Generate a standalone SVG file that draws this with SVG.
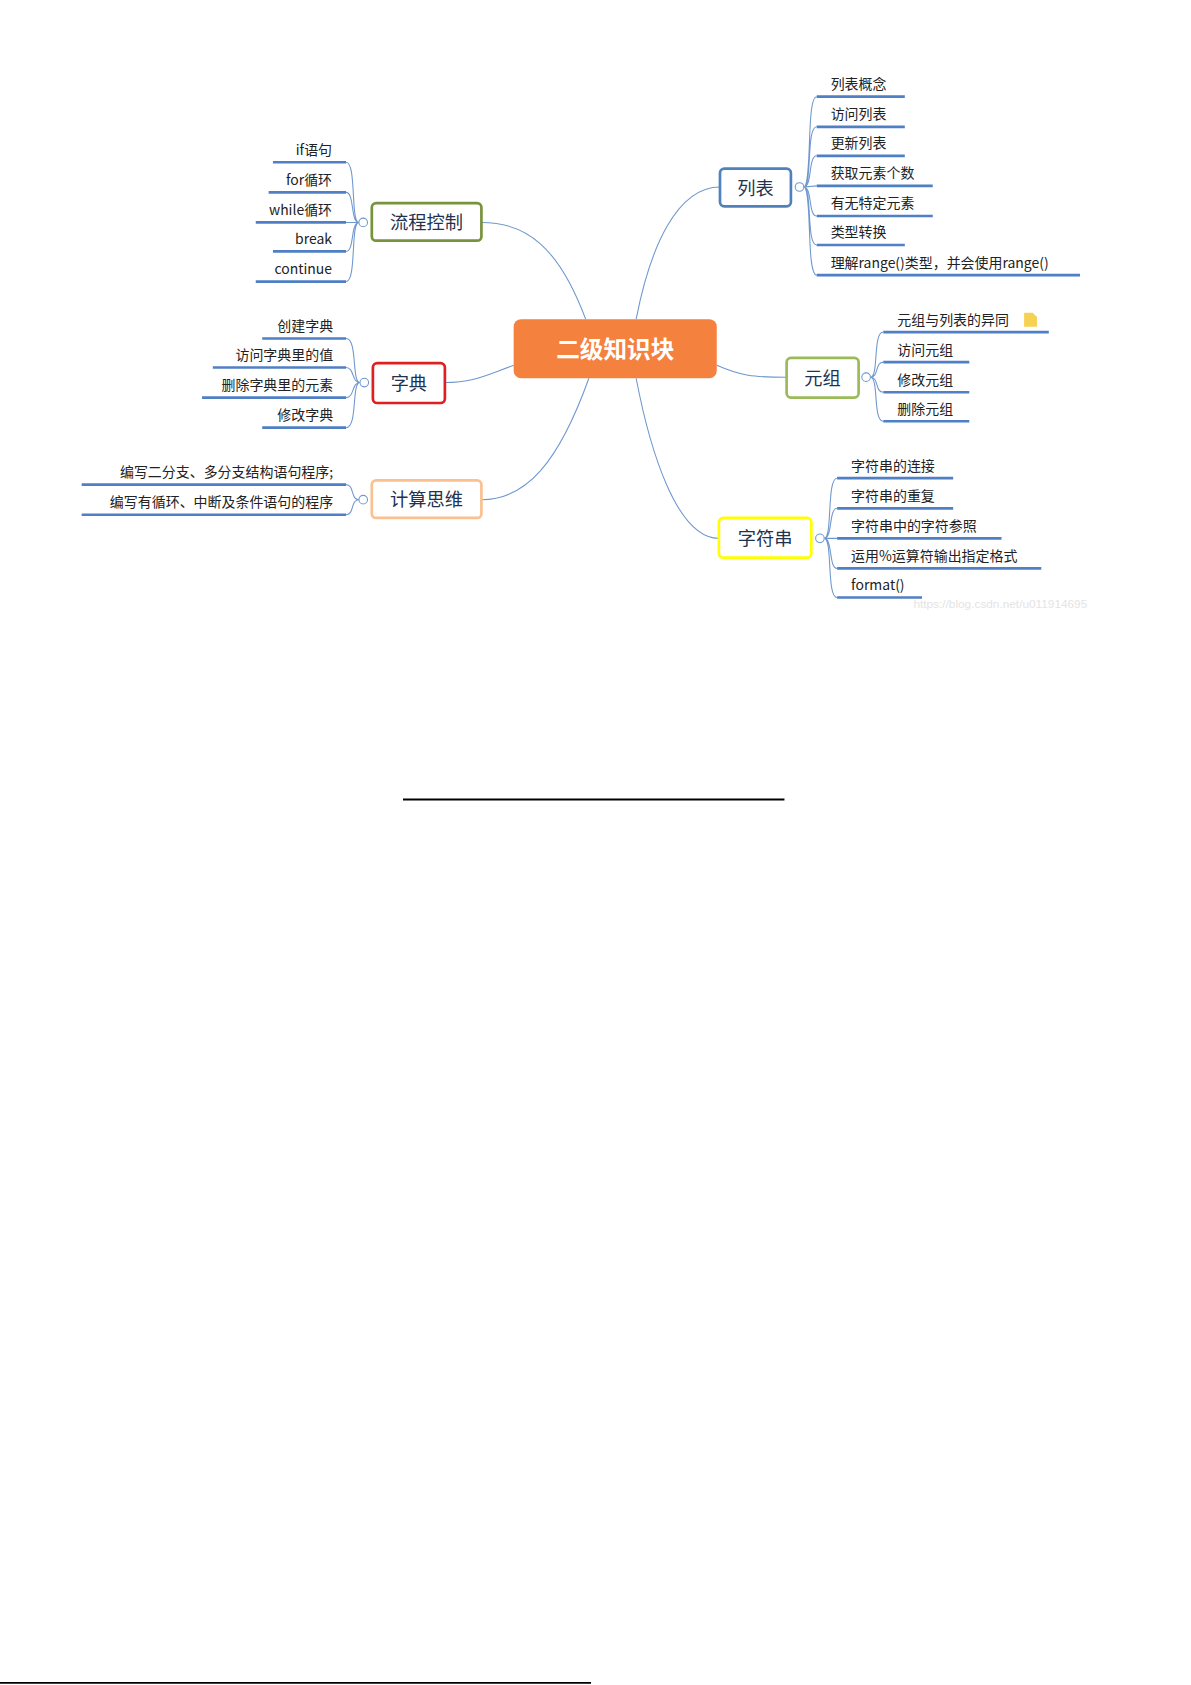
<svg xmlns="http://www.w3.org/2000/svg" width="1191" height="1685" viewBox="0 0 1191 1685">
<style>
.leaf{stroke:#4F7FC4;stroke-width:2.5;fill:none}
.br{stroke:#6F98CF;stroke-width:1;fill:none}
.t{font-family:"Noto Sans CJK SC","Liberation Sans",sans-serif;font-size:13px;fill:#222}
.r{text-anchor:end}
.nt{font-family:"Noto Sans CJK SC",sans-serif;font-size:17px;fill:#1F3350;text-anchor:middle}
.nb{fill:#fff;stroke-width:2.5}
.cc{fill:#fff;stroke:#6F98CF;stroke-width:1}
</style>
<rect width="1191" height="1685" fill="#fff"/>
<g transform="scale(1.0746)">
<g id="connectors">
<path class="br" d="M545,297 C520,230 490,207 448,207"/>
<path class="br" d="M478,340 C450,350 440,356 414,356"/>
<path class="br" d="M548,352 C520,430 490,465 448,465"/>
<path class="br" d="M592,297 C605,230 630,174 670,174"/>
<path class="br" d="M667,340 C690,350 700,351 732,351"/>
<path class="br" d="M592,352 C605,420 630,501 669,501"/>
<!-- 流程控制 children -->
<path class="br" d="M334,207 C326,207 332,151 322,151 M334,207 C326,207 330,179 322,179 M334,207 L322,207 M334,207 C326,207 330,234 322,234 M334,207 C326,207 332,262 322,262"/>
<path class="br" d="M335,356 C327,356 333,315 322,315 M335,356 C327,356 330,342 322,342 M335,356 C327,356 330,370 322,370 M335,356 C327,356 333,398 322,398"/>
<path class="br" d="M334,465 C326,465 330,451 322,451 M334,465 C326,465 330,479 322,479"/>
<path class="br" d="M748,174 C756,174 750,90 760,90 M748,174 C756,174 750,118 760,118 M748,174 C756,174 752,145 760,145 M748,174 L760,173 M748,174 C756,174 752,201 760,201 M748,174 C756,174 750,228 760,228 M748,174 C756,174 750,256 760,256"/>
<path class="br" d="M810,351 C818,351 812,309 822,309 M810,351 C818,351 814,337 822,337 M810,351 C818,351 814,365 822,365 M810,351 C818,351 812,392 822,392"/>
<path class="br" d="M767,501 C775,501 769,445 779,445 M767,501 C775,501 771,473 779,473 M767,501 L779,501 M767,501 C775,501 771,529 779,529 M767,501 C775,501 769,556 779,556"/>
</g>
<g id="center">
<rect x="478" y="297" width="189" height="55" rx="7" fill="#F5813F"/>
<text x="572.5" y="333" font-family="Noto Sans CJK SC,sans-serif" font-size="22" font-weight="bold" fill="#fff" text-anchor="middle">二级知识块</text>
</g>
<g id="liucheng">
<rect class="nb" x="346" y="189" width="102" height="35" rx="4" stroke="#77933C"/>
<text class="nt" x="397" y="213">流程控制</text>
<circle class="cc" cx="338" cy="207" r="4"/>
<line class="leaf" x1="254" y1="151" x2="322" y2="151"/><text class="t r" x="309" y="144">if语句</text>
<line class="leaf" x1="250" y1="179" x2="322" y2="179"/><text class="t r" x="309" y="172">for循环</text>
<line class="leaf" x1="238" y1="207" x2="322" y2="207"/><text class="t r" x="309" y="200">while循环</text>
<line class="leaf" x1="254" y1="234" x2="322" y2="234"/><text class="t r" x="309" y="227">break</text>
<line class="leaf" x1="238" y1="262" x2="322" y2="262"/><text class="t r" x="309" y="255">continue</text>
</g>
<g id="zidian">
<rect class="nb" x="347" y="338" width="67" height="37" rx="4" stroke="#E02020"/>
<text class="nt" x="380.5" y="363">字典</text>
<circle class="cc" cx="339" cy="356" r="4"/>
<line class="leaf" x1="244" y1="315" x2="322" y2="315"/><text class="t r" x="310" y="308">创建字典</text>
<line class="leaf" x1="198" y1="342" x2="322" y2="342"/><text class="t r" x="310" y="335">访问字典里的值</text>
<line class="leaf" x1="188" y1="370" x2="322" y2="370"/><text class="t r" x="310" y="363">删除字典里的元素</text>
<line class="leaf" x1="244" y1="398" x2="322" y2="398"/><text class="t r" x="310" y="391">修改字典</text>
</g>
<g id="jisuan">
<rect class="nb" x="346" y="447" width="102" height="35" rx="4" stroke="#FAC090"/>
<text class="nt" x="397" y="471">计算思维</text>
<circle class="cc" cx="338" cy="465" r="4"/>
<line class="leaf" x1="76" y1="451" x2="322" y2="451"/><text class="t r" x="310" y="444">编写二分支、多分支结构语句程序;</text>
<line class="leaf" x1="76" y1="479" x2="322" y2="479"/><text class="t r" x="310" y="472">编写有循环、中断及条件语句的程序</text>
</g>
<g id="liebiao">
<rect class="nb" x="670" y="157" width="66" height="35" rx="4" stroke="#4F81BD"/>
<text class="nt" x="703" y="181">列表</text>
<circle class="cc" cx="744" cy="174" r="4"/>
<line class="leaf" x1="760" y1="90" x2="842" y2="90"/><text class="t" x="773" y="83">列表概念</text>
<line class="leaf" x1="760" y1="118" x2="842" y2="118"/><text class="t" x="773" y="111">访问列表</text>
<line class="leaf" x1="760" y1="145" x2="842" y2="145"/><text class="t" x="773" y="138">更新列表</text>
<line class="leaf" x1="760" y1="173" x2="868" y2="173"/><text class="t" x="773" y="166">获取元素个数</text>
<line class="leaf" x1="760" y1="201" x2="868" y2="201"/><text class="t" x="773" y="194">有无特定元素</text>
<line class="leaf" x1="760" y1="228" x2="842" y2="228"/><text class="t" x="773" y="221">类型转换</text>
<line class="leaf" x1="760" y1="256" x2="1005" y2="256"/><text class="t" x="773" y="249">理解range()类型，并会使用range()</text>
</g>
<g id="yuanzu">
<rect class="nb" x="732" y="333" width="67" height="37" rx="4" stroke="#9BBB59"/>
<text class="nt" x="765.5" y="358">元组</text>
<circle class="cc" cx="806" cy="351" r="4"/>
<line class="leaf" x1="822" y1="309" x2="976" y2="309"/><text class="t" x="835" y="302">元组与列表的异同</text>
<path d="M953,291 h8 l4,4 v9 h-12 z" fill="#F7D154"/>
<line class="leaf" x1="822" y1="337" x2="902" y2="337"/><text class="t" x="835" y="330">访问元组</text>
<line class="leaf" x1="822" y1="365" x2="902" y2="365"/><text class="t" x="835" y="358">修改元组</text>
<line class="leaf" x1="822" y1="392" x2="902" y2="392"/><text class="t" x="835" y="385">删除元组</text>
</g>
<g id="zifuchuan">
<rect class="nb" x="669" y="482" width="86" height="37" rx="4" stroke="#FFFF00"/>
<text class="nt" x="712" y="507">字符串</text>
<circle class="cc" cx="763" cy="501" r="4"/>
<line class="leaf" x1="779" y1="445" x2="887" y2="445"/><text class="t" x="792" y="438">字符串的连接</text>
<line class="leaf" x1="779" y1="473" x2="887" y2="473"/><text class="t" x="792" y="466">字符串的重复</text>
<line class="leaf" x1="779" y1="501" x2="932" y2="501"/><text class="t" x="792" y="494">字符串中的字符参照</text>
<line class="leaf" x1="779" y1="529" x2="969" y2="529"/><text class="t" x="792" y="522">运用%运算符输出指定格式</text>
<line class="leaf" x1="779" y1="556" x2="858" y2="556"/><text class="t" x="792" y="549">format()</text>
</g>
<text x="850" y="566" font-family="Liberation Sans,sans-serif" font-size="11" fill="#e4e4e4">https://blog.csdn.net/u011914695</text>
<line x1="375" y1="744" x2="730" y2="744" stroke="#000" stroke-width="2"/>
<line x1="0" y1="1566" x2="550" y2="1566" stroke="#000" stroke-width="1.5"/>
</g>
</svg>
